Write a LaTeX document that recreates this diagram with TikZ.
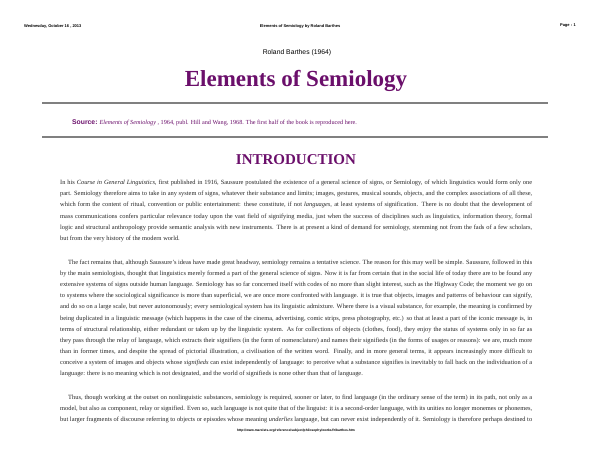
\documentclass[tikz,border=0pt]{standalone}
\usepackage{fontspec}
\setmainfont{Liberation Serif}
\setsansfont{Liberation Sans}
\definecolor{purp}{HTML}{6B0F6B}
\tikzset{
  hdr/.style={font=\sffamily\bfseries\fontsize{4}{5}\selectfont, inner sep=0},
  body/.style={anchor=west, font=\fontsize{6.4}{8}\selectfont, inner sep=0, text=black!85},
  rulel/.style={draw=gray, line width=1.5pt},
}
\newcommand{\jl}[1]{\makebox[472pt][s]{#1}}
\newcommand{\jli}[1]{\makebox[464pt][s]{#1}}
\begin{document}
\begin{tikzpicture}[x=1pt,y=-1pt]
\useasboundingbox[fill=white] (0,0) rectangle (600,464);
\node[hdr, anchor=west] (h1) at (24,26) {Wednesday, October 16 , 2013};
\node[hdr] (h2) at (300,26) {Elements of Semiology by Roland Barthes};
\node[hdr, anchor=east] (h3) at (576,26) {Page : 1};
\node[font=\sffamily\fontsize{6.8}{8}\selectfont, inner sep=0] (auth) at (297,53) {Roland Barthes (1964)};
\node[font=\bfseries\fontsize{23}{26}\selectfont, text=purp, inner sep=0] (title) at (296,81) {Elements of Semiology};
\coordinate (r1a) at (42,103); \coordinate (r1b) at (548,103);
\draw[rulel] (r1a) -- (r1b);
\node[anchor=west, inner sep=0, text=purp, font=\fontsize{6.2}{8}\selectfont] (src) at (72,123)
 {{\sffamily\bfseries\fontsize{6.8}{8}\selectfont Source:} \textit{Elements of Semiology} , 1964, publ. Hill and Wang, 1968. The first half of the book is reproduced here.};
\coordinate (r2a) at (42,137); \coordinate (r2b) at (548,137);
\draw[rulel] (r2a) -- (r2b);
\node[font=\bfseries\fontsize{15}{18}\selectfont, text=purp, inner sep=0] (intro) at (296,160) {INTRODUCTION};
% paragraph 1
\node[body] (p1a) at (60,183) {\jl{In his \textit{Course in General Linguistics,} first published in 1916, Saussure postulated the existence of a general science of signs, or Semiology, of which linguistics would form only one}};
\node[body] (p1b) at (60,194.2) {\jl{part. Semiology therefore aims to take in any system of signs, whatever their substance and limits; images, gestures, musical sounds, objects, and the complex associations of all these,}};
\node[body] (p1c) at (60,205.4) {\jl{which form the content of ritual, convention or public entertainment: these constitute, if not \textit{languages}, at least systems of signification. There is no doubt that the development of}};
\node[body] (p1d) at (60,216.6) {\jl{mass communications confers particular relevance today upon the vast field of signifying media, just when the success of disciplines such as linguistics, information theory, formal}};
\node[body] (p1e) at (60,227.8) {\jl{logic and structural anthropology provide semantic analysis with new instruments. There is at present a kind of demand for semiology, stemming not from the fads of a few scholars,}};
\node[body] (p1f) at (60,239) {but from the very history of the modern world.};
% paragraph 2
\node[body] (p2a) at (68,263) {\jli{The fact remains that, although Saussure's ideas have made great headway, semiology remains a tentative science. The reason for this may well be simple. Saussure, followed in this}};
\node[body] (p2b) at (60,274.1) {\jl{by the main semiologists, thought that linguistics merely formed a part of the general science of signs. Now it is far from certain that in the social life of today there are to be found any}};
\node[body] (p2c) at (60,285.2) {\jl{extensive systems of signs outside human language. Semiology has so far concerned itself with codes of no more than slight interest, such as the Highway Code; the moment we go on}};
\node[body] (p2d) at (60,296.3) {\jl{to systems where the sociological significance is more than superficial, we are once more confronted with language. it is true that objects, images and patterns of behaviour can signify,}};
\node[body] (p2e) at (60,307.4) {\jl{and do so on a large scale, but never autonomously; every semiological system has its linguistic admixture. Where there is a visual substance, for example, the meaning is confirmed by}};
\node[body] (p2f) at (60,318.5) {\jl{being duplicated in a linguistic message (which happens in the case of the cinema, advertising, comic strips, press photography, etc.) so that at least a part of the iconic message is, in}};
\node[body] (p2g) at (60,329.6) {\jl{terms of structural relationship, either redundant or taken up by the linguistic system. As for collections of objects (clothes, food), they enjoy the status of systems only in so far as}};
\node[body] (p2h) at (60,340.7) {\jl{they pass through the relay of language, which extracts their signifiers (in the form of nomenclature) and names their signifieds (in the forms of usages or reasons): we are, much more}};
\node[body] (p2i) at (60,351.8) {\jl{than in former times, and despite the spread of pictorial illustration, a civilisation of the written word. Finally, and in more general terms, it appears increasingly more difficult to}};
\node[body] (p2j) at (60,362.9) {\jl{conceive a system of images and objects whose \textit{signifieds} can exist independently of language: to perceive what a substance signifies is inevitably to fall back on the individuation of a}};
\node[body] (p2k) at (60,374) {language: there is no meaning which is not designated, and the world of signifieds is none other than that of language.};
% paragraph 3
\node[body] (p3a) at (68,398) {\jli{Thus, though working at the outset on nonlinguistic substances, semiology is required, sooner or later, to find language (in the ordinary sense of the term) in its path, not only as a}};
\node[body] (p3b) at (60,409) {\jl{model, but also as component, relay or signified. Even so, such language is not quite that of the linguist: it is a second-order language, with its unities no longer monemes or phonemes,}};
\node[body] (p3c) at (60,420) {\jl{but larger fragments of discourse referring to objects or episodes whose meaning \textit{underlies} language, but can never exist independently of it. Semiology is therefore perhaps destined to}};
\node[hdr, font=\sffamily\bfseries\fontsize{3.3}{4}\selectfont] (url) at (296,431) {http://www.marxists.org/reference/subject/philosophy/works/fr/barthes.htm};
\end{tikzpicture}
\end{document}
